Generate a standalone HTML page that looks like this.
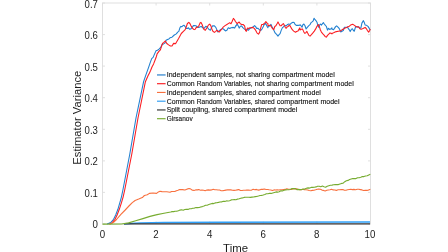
<!DOCTYPE html>
<html><head><meta charset="utf-8"><title>Estimator Variance</title>
<style>html,body{margin:0;padding:0;background:#fff;width:448px;height:252px;overflow:hidden}</style></head>
<body>
<svg width="448" height="252" viewBox="0 0 448 252" style="position:absolute;left:0;top:0">
<rect width="448" height="252" fill="#fff"/>
<rect x="102.5" y="3" width="268.0" height="221" fill="none" stroke="#dcdcdc" stroke-width="0.9"/>
<path d="M102.5,224 v-2.5 M102.5,3 v2.5 M156.1,224 v-2.5 M156.1,3 v2.5 M209.7,224 v-2.5 M209.7,3 v2.5 M263.3,224 v-2.5 M263.3,3 v2.5 M316.9,224 v-2.5 M316.9,3 v2.5 M370.5,224 v-2.5 M370.5,3 v2.5 M102.5,224.0 h2.5 M370.5,224.0 h-2.5 M102.5,192.4 h2.5 M370.5,192.4 h-2.5 M102.5,160.9 h2.5 M370.5,160.9 h-2.5 M102.5,129.3 h2.5 M370.5,129.3 h-2.5 M102.5,97.7 h2.5 M370.5,97.7 h-2.5 M102.5,66.1 h2.5 M370.5,66.1 h-2.5 M102.5,34.6 h2.5 M370.5,34.6 h-2.5 M102.5,3.0 h2.5 M370.5,3.0 h-2.5" stroke="#dcdcdc" stroke-width="0.9" fill="none"/>
<g fill="none" stroke-linejoin="round" stroke-linecap="butt">
<path d="M107.1,223.9 L110.7,222.6 L113.6,219.3 L115.7,215.0 L117.9,209.3 L120.0,202.1 L121.4,197.1 L122.9,190.0 L129.8,154.0 L136.0,118.0 L143.6,81.7 L146.0,74.6 L148.6,67.4 L150.3,62.4 L151.7,58.6 L153.1,57.4 L154.6,53.9 L156.1,50.6 L157.5,50.3 L159.3,48.9 L160.7,47.4 L162.1,44.6 L163.6,43.9 L165.0,43.1 L166.1,40.3 L167.5,39.6 L168.9,38.9 L170.0,37.8 L172.0,37.2 L174.3,35.0 L176.3,33.9 L177.7,32.1 L178.8,31.4 L179.9,27.8 L180.9,26.4 L182.0,26.7 L183.1,25.6 L184.1,25.3 L185.2,26.7 L186.3,28.5 L187.4,28.5 L188.4,27.8 L189.5,29.2 L190.9,28.9 L192.4,27.1 L193.4,25.6 L194.9,25.6 L196.3,26.0 L197.4,27.1 L198.8,27.4 L200.2,26.7 L201.3,26.4 L202.7,27.8 L204.0,28.4 L205.8,26.3 L207.2,27.0 L208.6,29.1 L210.4,30.2 L211.5,27.7 L212.6,25.9 L214.4,25.9 L215.8,27.4 L216.9,29.9 L217.9,32.0 L219.0,30.9 L220.8,29.5 L222.6,28.4 L224.0,29.5 L225.4,30.9 L226.9,30.2 L228.3,27.7 L229.7,28.4 L231.1,27.7 L233.3,27.4 L234.7,28.1 L235.9,25.6 L236.0,25.9 L237.1,24.1 L238.1,25.6 L239.2,28.1 L240.3,26.3 L241.7,25.9 L242.8,27.7 L244.2,28.8 L245.6,29.9 L247.1,29.5 L248.5,30.2 L249.9,28.4 L251.4,27.7 L253.1,27.0 L254.6,25.6 L255.6,26.6 L256.7,28.4 L258.1,28.4 L259.6,29.9 L260.6,30.6 L262.1,28.8 L263.1,27.0 L264.2,24.5 L265.3,23.4 L266.4,24.9 L267.4,27.0 L267.9,27.7 L268.0,26.9 L269.4,26.1 L271.0,24.4 L271.9,26.5 L273.0,28.6 L274.1,30.8 L275.1,32.9 L276.6,34.4 L278.0,36.1 L279.1,34.7 L280.1,33.6 L281.2,30.4 L282.3,27.9 L283.4,26.9 L284.8,25.4 L286.2,25.8 L287.6,24.4 L288.7,24.0 L290.1,24.4 L291.6,22.9 L293.0,22.2 L294.1,22.6 L295.1,24.4 L296.2,25.4 L298.0,25.4 L299.9,25.1 L300.0,24.7 L301.1,25.8 L302.0,27.2 L302.9,24.7 L303.9,24.0 L305.0,25.8 L306.1,29.0 L307.1,27.6 L308.6,25.8 L310.0,24.7 L311.1,22.6 L312.1,21.9 L313.2,20.8 L314.1,18.3 L315.1,19.7 L316.1,20.8 L317.1,22.6 L317.9,25.8 L318.6,27.2 L319.3,25.4 L320.4,24.0 L321.4,25.1 L322.5,23.6 L323.4,22.6 L324.3,24.0 L325.4,25.4 L326.4,26.5 L327.5,30.1 L328.6,28.3 L329.6,29.4 L330.7,29.0 L331.9,27.9 L332.0,29.1 L333.4,29.8 L334.5,28.4 L335.6,26.6 L336.6,25.9 L337.7,26.9 L338.8,28.0 L339.7,29.4 L340.7,31.9 L342.0,31.2 L343.3,30.5 L344.3,27.3 L345.2,27.3 L346.3,27.6 L347.4,26.9 L348.4,28.7 L349.5,30.1 L350.2,31.6 L351.3,29.4 L352.4,28.7 L353.4,30.5 L354.3,31.2 L355.2,28.0 L355.9,26.6 L357.0,26.9 L358.1,26.9 L358.7,26.7 L359.8,28.5 L360.9,27.8 L361.9,23.1 L363.4,20.6 L364.4,22.8 L365.1,24.9 L366.6,25.3 L368.0,26.4 L369.1,28.1 L370.1,29.9" stroke="#2280d0" stroke-width="1.08"/>
<path d="M109.3,223.9 L112.1,222.9 L115.0,219.3 L117.1,215.0 L119.3,209.3 L121.4,202.9 L123.1,197.1 L124.7,190.0 L131.8,154.0 L138.0,118.0 L145.4,81.7 L147.9,76.0 L149.7,72.4 L150.7,70.3 L152.1,66.7 L153.6,63.9 L155.0,60.3 L156.4,56.5 L157.1,53.9 L158.9,51.4 L160.4,49.9 L161.4,46.7 L162.5,43.5 L163.9,42.4 L165.4,41.0 L166.8,43.5 L168.6,44.9 L170.4,46.0 L172.0,46.0 L173.6,43.4 L175.7,43.6 L178.6,38.6 L181.3,33.5 L183.4,31.4 L185.2,29.6 L186.3,26.7 L187.4,23.5 L188.8,22.4 L189.9,23.5 L191.3,26.4 L192.7,28.5 L194.1,29.6 L195.2,29.2 L196.3,27.4 L197.7,27.1 L199.1,25.3 L200.2,22.8 L200.9,22.4 L202.0,24.2 L203.1,27.4 L204.0,29.5 L205.4,30.2 L206.9,27.7 L208.3,25.2 L209.7,24.1 L210.8,25.6 L211.9,29.1 L212.9,31.3 L214.4,32.4 L215.8,31.3 L216.9,30.2 L218.3,31.6 L219.4,32.0 L220.8,30.2 L221.9,29.1 L222.9,27.4 L224.7,25.9 L226.9,24.5 L228.6,23.4 L229.7,22.7 L231.0,23.8 L232.2,21.3 L233.4,18.4 L234.4,19.5 L235.4,21.6 L235.9,22.0 L236.0,22.0 L237.1,23.8 L238.1,22.7 L239.2,22.0 L240.3,23.8 L241.7,24.5 L243.1,24.5 L244.6,25.9 L245.6,30.6 L246.4,31.3 L247.4,28.1 L248.5,28.4 L249.9,27.7 L251.4,27.6 L252.8,27.4 L254.2,28.4 L255.6,30.2 L257.1,33.1 L258.5,34.1 L259.6,32.4 L260.6,28.4 L261.7,24.5 L263.1,24.5 L264.6,23.1 L265.9,21.6 L266.9,23.1 L267.9,23.4 L268.0,25.8 L269.4,25.4 L270.5,25.4 L271.6,27.2 L272.6,28.6 L273.7,29.7 L274.8,26.5 L275.9,25.8 L276.9,24.0 L278.0,21.9 L279.1,24.0 L280.1,25.8 L281.2,25.8 L282.3,24.4 L283.4,23.6 L284.4,25.4 L285.5,27.9 L286.2,28.3 L287.1,26.9 L288.0,26.5 L289.1,25.4 L290.1,25.8 L291.2,27.9 L292.3,29.7 L293.7,31.1 L295.5,32.2 L296.6,31.5 L298.0,31.1 L299.1,29.0 L299.9,27.9 L300.0,30.0 L301.1,29.3 L302.5,28.9 L303.6,31.4 L304.6,33.2 L305.7,32.9 L306.9,31.4 L307.9,33.6 L308.9,35.4 L310.0,36.1 L311.4,34.6 L312.9,32.9 L314.3,31.1 L315.7,28.9 L317.1,26.1 L318.4,24.6 L319.3,26.4 L320.4,30.0 L321.4,32.1 L322.9,33.9 L324.3,35.4 L325.4,36.8 L326.4,37.1 L327.5,35.4 L328.6,34.3 L330.0,32.9 L331.1,33.2 L331.9,33.9 L332.0,33.4 L334.1,32.6 L336.3,31.6 L338.4,31.2 L340.6,30.9 L342.0,29.8 L343.4,29.1 L345.2,28.0 L347.0,27.3 L348.8,26.6 L350.6,25.1 L352.7,24.3 L354.1,25.1 L355.6,26.2 L357.0,26.9 L358.3,26.9 L358.7,27.1 L360.1,28.9 L361.2,29.2 L363.0,28.5 L365.1,27.4 L366.2,28.5 L367.3,30.3 L368.7,32.1 L369.8,30.3 L370.4,29.2" stroke="#fb1d22" stroke-width="1.08"/>
<path d="M110.0,223.9 L113.6,222.3 L116.5,219.5 L120.9,214.3 L125.2,210.0 L129.4,205.5 L132.3,202.6 L135.1,200.5 L138.7,199.1 L142.3,197.6 L144.4,195.5 L147.3,194.8 L149.4,193.4 L153.0,193.0 L156.6,193.4 L158.4,191.9 L160.0,191.2 L162.0,191.6 L163.6,191.7 L165.2,191.7 L166.8,191.8 L168.4,192.0 L170.0,192.3 L171.6,191.5 L173.2,191.5 L174.8,191.5 L176.4,190.7 L178.0,190.2 L179.6,189.6 L181.2,189.6 L182.8,189.6 L184.4,190.0 L186.0,189.6 L187.6,188.9 L189.2,188.5 L190.8,189.1 L192.4,190.3 L194.0,190.4 L195.6,189.9 L197.2,189.9 L198.8,189.6 L200.4,190.2 L202.0,190.1 L203.6,190.2 L205.2,190.7 L206.8,190.1 L208.4,189.9 L210.0,190.1 L211.6,189.9 L213.2,189.3 L214.8,189.7 L216.4,189.7 L218.0,190.0 L219.6,190.0 L221.2,190.7 L222.8,190.6 L224.4,190.4 L226.0,190.1 L227.6,189.8 L229.2,189.9 L230.8,189.9 L232.4,190.2 L234.0,190.4 L235.6,190.2 L237.2,189.9 L238.8,189.6 L240.4,190.5 L242.0,190.5 L243.6,190.2 L245.2,190.3 L246.8,190.1 L248.4,190.1 L250.0,190.3 L251.6,190.1 L253.2,189.3 L254.8,189.7 L256.4,189.4 L258.0,190.1 L259.6,189.9 L261.2,189.2 L262.8,189.4 L264.4,189.0 L266.0,189.5 L267.6,189.5 L269.2,189.8 L270.8,190.0 L272.4,190.5 L274.0,189.9 L275.6,190.0 L277.2,189.9 L278.8,190.0 L280.4,189.8 L282.0,189.8 L283.6,189.6 L285.2,189.4 L286.8,188.7 L288.4,189.2 L290.0,189.3 L291.6,189.5 L293.2,188.7 L294.8,188.9 L296.4,188.7 L298.0,189.3 L299.6,189.6 L301.2,189.7 L302.8,189.2 L304.4,189.8 L306.0,189.8 L307.6,190.0 L309.2,190.5 L310.8,190.8 L312.4,190.4 L314.0,190.2 L315.6,189.8 L317.2,189.2 L318.8,189.1 L320.4,189.3 L322.0,190.1 L323.6,190.4 L325.2,191.0 L326.8,190.3 L328.4,190.0 L330.0,189.8 L331.6,189.3 L333.2,189.9 L334.8,190.0 L336.4,190.4 L338.0,189.8 L339.6,189.8 L341.2,189.6 L342.8,189.5 L344.4,190.3 L346.0,190.3 L347.6,189.7 L349.2,189.5 L350.8,189.3 L352.4,189.6 L354.0,189.4 L355.6,189.7 L357.2,189.2 L358.8,189.3 L360.4,189.6 L362.0,189.9 L363.6,190.5 L365.2,190.4 L366.8,190.4 L368.4,190.1 L370.0,189.4 L370.3,189.3" stroke="#f8713f" stroke-width="1.1"/>
<path d="M124.0,223.9 L130.0,223.4 L140.0,222.9 L164.0,222.5 L220.0,222.2 L370.0,222.0" stroke="#2fa0f8" stroke-width="1.5"/>
<path d="M124,223.9 H370" stroke="#3a3636" stroke-width="1.3"/>
<path d="M102.5,224.1 L121.4,224.0 L128.6,222.9 L135.7,220.7 L142.9,218.6 L150.0,216.4 L157.1,214.6 L164.0,213.2 L170.7,212.0 L172.0,211.6 L173.6,211.6 L175.2,211.2 L176.8,211.1 L178.4,210.8 L180.0,210.1 L181.6,209.8 L183.2,210.2 L184.8,209.5 L186.4,209.2 L188.0,209.4 L189.6,208.8 L191.2,208.8 L192.8,208.3 L194.4,208.1 L196.0,207.5 L197.6,207.6 L199.2,207.5 L200.8,206.9 L202.4,206.6 L204.0,206.1 L205.6,205.2 L207.2,205.2 L208.8,204.6 L210.4,204.0 L212.0,203.4 L213.6,203.6 L215.2,202.9 L216.8,202.7 L218.4,202.4 L220.0,202.0 L221.6,201.9 L223.2,201.3 L224.8,201.4 L226.4,200.9 L228.0,201.0 L229.6,200.7 L231.2,199.9 L232.8,199.8 L234.4,199.6 L236.0,199.8 L237.6,199.1 L239.2,198.8 L240.8,198.2 L242.4,197.9 L244.0,197.4 L245.6,197.2 L247.2,197.3 L248.8,197.3 L250.4,197.4 L252.0,197.1 L253.6,197.0 L255.2,196.6 L256.8,196.4 L258.4,196.0 L260.0,195.5 L261.6,195.4 L263.2,195.0 L264.8,194.5 L266.4,193.8 L268.0,193.7 L269.6,193.2 L271.2,193.4 L272.8,192.9 L274.4,192.4 L276.0,191.9 L277.6,192.1 L279.2,191.8 L280.8,190.8 L282.4,190.9 L284.0,190.3 L285.6,189.9 L287.2,189.7 L288.8,189.8 L290.4,189.5 L292.0,188.6 L293.6,188.6 L295.2,188.5 L296.8,189.6 L298.4,189.4 L300.0,189.6 L301.6,189.6 L303.2,189.1 L304.8,189.1 L306.4,188.3 L308.0,187.9 L309.6,188.1 L311.2,187.4 L312.8,187.4 L314.4,187.3 L316.0,186.9 L317.6,186.2 L319.2,186.3 L320.8,186.8 L322.4,186.1 L324.0,186.7 L325.6,187.2 L327.2,186.3 L328.8,185.8 L330.4,185.3 L332.0,185.1 L333.6,184.8 L335.2,184.6 L336.8,184.5 L338.4,184.6 L340.0,183.9 L341.6,183.4 L343.2,183.1 L344.8,181.7 L346.4,180.7 L348.0,180.4 L349.6,179.5 L351.2,179.0 L352.8,178.5 L354.4,178.6 L356.0,178.6 L357.6,177.7 L359.2,177.7 L360.8,177.3 L362.4,176.5 L364.0,176.6 L365.6,176.0 L367.2,175.7 L368.8,174.9 L370.3,174.3" stroke="#77ac30" stroke-width="1.1"/>
</g>
<g font-family="'Liberation Sans', sans-serif" font-size="7.5px" fill="#111" stroke="#111" stroke-width="0.12">
<path d="M157,74.95 H165.6" stroke="#1e7bcb" stroke-width="1.15" fill="none"/>
<text y="77.35"><tspan x="166.70" textLength="39.16" lengthAdjust="spacingAndGlyphs">Independent</tspan> <tspan x="207.91" textLength="25.92" lengthAdjust="spacingAndGlyphs">samples,</tspan> <tspan x="235.88" textLength="9.97" lengthAdjust="spacingAndGlyphs">not</tspan> <tspan x="247.90" textLength="22.18" lengthAdjust="spacingAndGlyphs">sharing</tspan> <tspan x="272.13" textLength="41.54" lengthAdjust="spacingAndGlyphs">compartment</tspan> <tspan x="315.71" textLength="19.09" lengthAdjust="spacingAndGlyphs">model</tspan></text>
<path d="M157,83.70 H165.6" stroke="#fb1d22" stroke-width="1.15" fill="none"/>
<text y="86.10"><tspan x="166.70" textLength="27.99" lengthAdjust="spacingAndGlyphs">Common</tspan> <tspan x="196.74" textLength="25.22" lengthAdjust="spacingAndGlyphs">Random</tspan> <tspan x="224.01" textLength="28.65" lengthAdjust="spacingAndGlyphs">Variables,</tspan> <tspan x="254.71" textLength="9.98" lengthAdjust="spacingAndGlyphs">not</tspan> <tspan x="266.73" textLength="22.20" lengthAdjust="spacingAndGlyphs">sharing</tspan> <tspan x="290.98" textLength="41.57" lengthAdjust="spacingAndGlyphs">compartment</tspan> <tspan x="334.60" textLength="19.10" lengthAdjust="spacingAndGlyphs">model</tspan></text>
<path d="M157,92.45 H165.6" stroke="#f8713f" stroke-width="1.15" fill="none"/>
<text y="94.85"><tspan x="166.70" textLength="39.21" lengthAdjust="spacingAndGlyphs">Independent</tspan> <tspan x="207.96" textLength="25.96" lengthAdjust="spacingAndGlyphs">samples,</tspan> <tspan x="235.96" textLength="20.14" lengthAdjust="spacingAndGlyphs">shared</tspan> <tspan x="258.15" textLength="41.59" lengthAdjust="spacingAndGlyphs">compartment</tspan> <tspan x="301.79" textLength="19.11" lengthAdjust="spacingAndGlyphs">model</tspan></text>
<path d="M157,101.20 H165.6" stroke="#2f9df2" stroke-width="1.15" fill="none"/>
<text y="103.60"><tspan x="166.70" textLength="27.97" lengthAdjust="spacingAndGlyphs">Common</tspan> <tspan x="196.72" textLength="25.20" lengthAdjust="spacingAndGlyphs">Random</tspan> <tspan x="223.97" textLength="28.64" lengthAdjust="spacingAndGlyphs">Variables,</tspan> <tspan x="254.65" textLength="20.12" lengthAdjust="spacingAndGlyphs">shared</tspan> <tspan x="276.82" textLength="41.55" lengthAdjust="spacingAndGlyphs">compartment</tspan> <tspan x="320.41" textLength="19.09" lengthAdjust="spacingAndGlyphs">model</tspan></text>
<path d="M157,109.95 H165.6" stroke="#303030" stroke-width="1.15" fill="none"/>
<text y="112.35"><tspan x="166.70" textLength="13.15" lengthAdjust="spacingAndGlyphs">Split</tspan> <tspan x="181.91" textLength="28.14" lengthAdjust="spacingAndGlyphs">coupling,</tspan> <tspan x="212.10" textLength="20.20" lengthAdjust="spacingAndGlyphs">shared</tspan> <tspan x="234.36" textLength="41.72" lengthAdjust="spacingAndGlyphs">compartment</tspan> <tspan x="278.13" textLength="19.17" lengthAdjust="spacingAndGlyphs">model</tspan></text>
<path d="M157,118.70 H165.6" stroke="#77ac30" stroke-width="1.15" fill="none"/>
<text y="121.10"><tspan x="166.70" textLength="26.00" lengthAdjust="spacingAndGlyphs">Girsanov</tspan></text>
</g>
<g font-family="'Liberation Sans', sans-serif" font-size="10.3px" fill="#1c1c1c">
<text x="102.4" y="237.6" text-anchor="middle" textLength="5.40" lengthAdjust="spacingAndGlyphs">0</text>
<text x="156.0" y="237.6" text-anchor="middle" textLength="5.40" lengthAdjust="spacingAndGlyphs">2</text>
<text x="209.6" y="237.6" text-anchor="middle" textLength="5.40" lengthAdjust="spacingAndGlyphs">4</text>
<text x="263.2" y="237.6" text-anchor="middle" textLength="5.40" lengthAdjust="spacingAndGlyphs">6</text>
<text x="316.8" y="237.6" text-anchor="middle" textLength="5.40" lengthAdjust="spacingAndGlyphs">8</text>
<text x="370.0" y="237.6" text-anchor="middle" textLength="10.80" lengthAdjust="spacingAndGlyphs">10</text>
<text x="97.9" y="228.4" text-anchor="end" textLength="5.4" lengthAdjust="spacingAndGlyphs">0</text>
<text x="97.9" y="196.8" text-anchor="end" textLength="13.3" lengthAdjust="spacingAndGlyphs">0.1</text>
<text x="97.9" y="165.3" text-anchor="end" textLength="13.3" lengthAdjust="spacingAndGlyphs">0.2</text>
<text x="97.9" y="133.7" text-anchor="end" textLength="13.3" lengthAdjust="spacingAndGlyphs">0.3</text>
<text x="97.9" y="102.1" text-anchor="end" textLength="13.3" lengthAdjust="spacingAndGlyphs">0.4</text>
<text x="97.9" y="70.5" text-anchor="end" textLength="13.3" lengthAdjust="spacingAndGlyphs">0.5</text>
<text x="97.9" y="39.0" text-anchor="end" textLength="13.3" lengthAdjust="spacingAndGlyphs">0.6</text>
<text x="97.9" y="7.8" text-anchor="end" textLength="13.3" lengthAdjust="spacingAndGlyphs">0.7</text>
</g>
<g font-family="'Liberation Sans', sans-serif" font-size="11.6px" fill="#1c1c1c">
<text x="223.1" y="251.5" textLength="24.9" lengthAdjust="spacingAndGlyphs">Time</text>
<text transform="translate(81,164.7) rotate(-90)" text-anchor="start" textLength="94.0" lengthAdjust="spacingAndGlyphs">Estimator Variance</text>
</g>
</svg>
</body></html>
